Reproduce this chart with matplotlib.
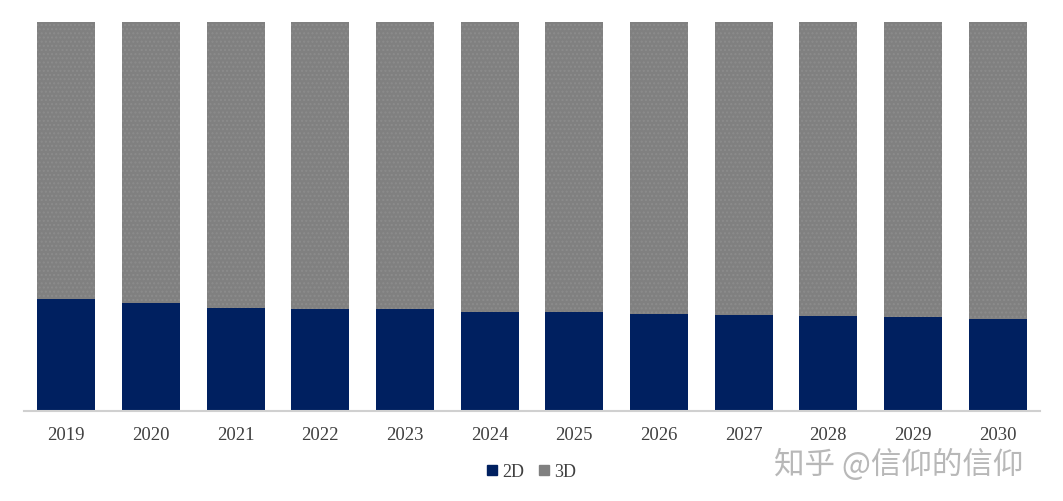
import numpy as np
import matplotlib.pyplot as plt
from matplotlib.patches import Patch

# data (share, %)
years = ["2019", "2020", "2021", "2022", "2023", "2024",
         "2025", "2026", "2027", "2028", "2029", "2030"]
share_2d = [28.9, 27.8, 26.5, 26.3, 26.3, 25.5, 25.5, 25.0, 24.7, 24.5, 24.2, 23.7]
share_3d = [100 - v for v in share_2d]

plt.rcParams['font.family'] = ['Liberation Serif', 'DejaVu Serif']

fig = plt.figure(figsize=(10.63, 5.02), dpi=100)
ax = fig.add_axes([0.0226, 0.179, 0.9558, 0.776])

x = np.arange(len(years))
w = 0.685
ax.bar(x, share_2d, width=w, color="#002060", linewidth=0)
ax.bar(x, share_3d, width=w, bottom=share_2d, color="#808080",
       hatch="....", edgecolor="#8c8c8c", linewidth=0)

ax.set_xlim(-0.5, len(years) - 0.5)
ax.set_ylim(0, 100)
ax.set_xticks(x)
ax.set_xticklabels(years, fontsize=13.5, color="#404040")
ax.tick_params(axis="x", length=0, pad=11)
ax.set_yticks([])
for s in ["top", "right", "left"]:
    ax.spines[s].set_visible(False)
ax.spines["bottom"].set_color("#d0d0d0")
ax.spines["bottom"].set_linewidth(1.5)

handles = [Patch(color="#002060", label="2D"), Patch(color="#808080", label="3D")]
fig.legend(handles=handles, loc="center", bbox_to_anchor=(0.5, 0.058), ncol=2,
           frameon=False, fontsize=13, handlelength=0.55, handleheight=0.55,
           handletextpad=0.3, columnspacing=0.8, labelcolor="#404040")

fig.text(0.728, 0.055, "知乎 @信仰的信仰", fontsize=22, color="#b8b8b8",
         family=["Noto Sans CJK SC", "DejaVu Sans"])

fig.savefig("out.png", dpi=100)
